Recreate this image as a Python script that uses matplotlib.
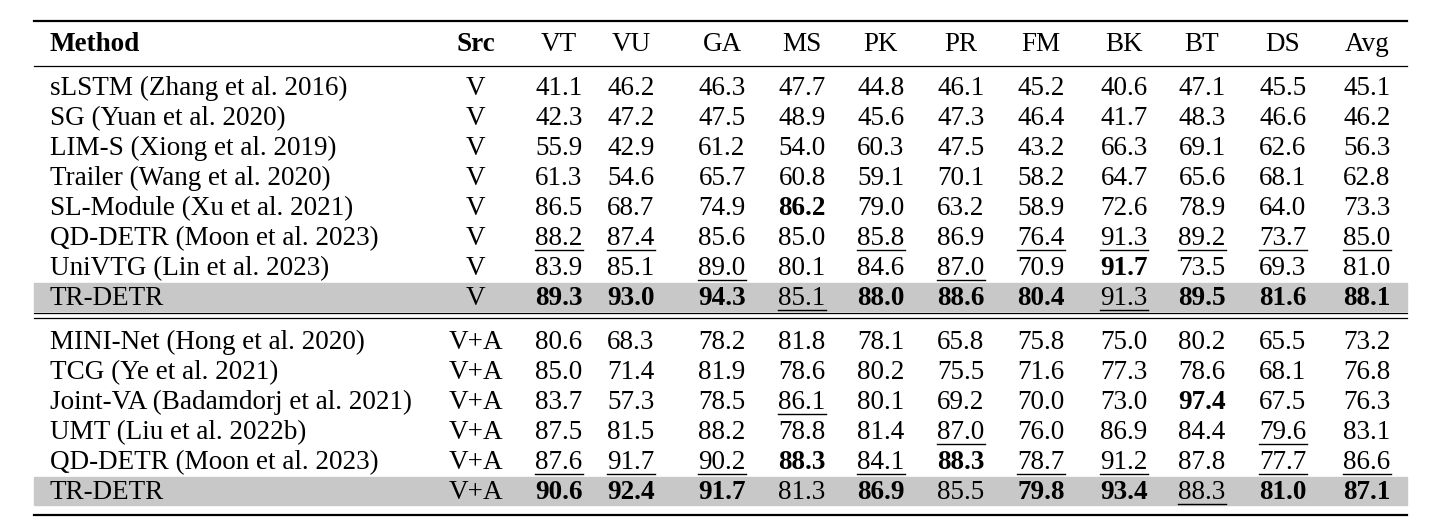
import matplotlib
matplotlib.use("Agg")
import matplotlib.pyplot as plt

headers = ["Method", "Src", "VT", "VU", "GA", "MS", "PK", "PR", "FM", "BK", "BT", "DS", "Avg"]
methods_v = ["sLSTM (Zhang et al. 2016)", "SG (Yuan et al. 2020)", "LIM-S (Xiong et al. 2019)",
             "Trailer (Wang et al. 2020)", "SL-Module (Xu et al. 2021)", "QD-DETR (Moon et al. 2023)",
             "UniVTG (Lin et al. 2023)", "TR-DETR"]
values_v = [
    [41.1, 46.2, 46.3, 47.7, 44.8, 46.1, 45.2, 40.6, 47.1, 45.5, 45.1],
    [42.3, 47.2, 47.5, 48.9, 45.6, 47.3, 46.4, 41.7, 48.3, 46.6, 46.2],
    [55.9, 42.9, 61.2, 54.0, 60.3, 47.5, 43.2, 66.3, 69.1, 62.6, 56.3],
    [61.3, 54.6, 65.7, 60.8, 59.1, 70.1, 58.2, 64.7, 65.6, 68.1, 62.8],
    [86.5, 68.7, 74.9, 86.2, 79.0, 63.2, 58.9, 72.6, 78.9, 64.0, 73.3],
    [88.2, 87.4, 85.6, 85.0, 85.8, 86.9, 76.4, 91.3, 89.2, 73.7, 85.0],
    [83.9, 85.1, 89.0, 80.1, 84.6, 87.0, 70.9, 91.7, 73.5, 69.3, 81.0],
    [89.3, 93.0, 94.3, 85.1, 88.0, 88.6, 80.4, 91.3, 89.5, 81.6, 88.1],
]
marks_v = ["-----------", "-----------", "-----------", "-----------", "---b-------",
           "uu--u-uuuuu", "--u--u-b---", "bbbubbbubbb"]
methods_va = ["MINI-Net (Hong et al. 2020)", "TCG (Ye et al. 2021)", "Joint-VA (Badamdorj et al. 2021)",
              "UMT (Liu et al. 2022b)", "QD-DETR (Moon et al. 2023)", "TR-DETR"]
values_va = [
    [80.6, 68.3, 78.2, 81.8, 78.1, 65.8, 75.8, 75.0, 80.2, 65.5, 73.2],
    [85.0, 71.4, 81.9, 78.6, 80.2, 75.5, 71.6, 77.3, 78.6, 68.1, 76.8],
    [83.7, 57.3, 78.5, 86.1, 80.1, 69.2, 70.0, 73.0, 97.4, 67.5, 76.3],
    [87.5, 81.5, 88.2, 78.8, 81.4, 87.0, 76.0, 86.9, 84.4, 79.6, 83.1],
    [87.6, 91.7, 90.2, 88.3, 84.1, 88.3, 78.7, 91.2, 87.8, 77.7, 86.6],
    [90.6, 92.4, 91.7, 81.3, 86.9, 85.5, 79.8, 93.4, 88.3, 81.0, 87.1],
]
marks_va = ["-----------", "-----------", "---u----b--", "-----u---u-",
            "uuububuu-uu", "bbb-b-bbubb"]

plt.rcParams["font.family"] = ["Liberation Serif", "DejaVu Serif"]
fig = plt.figure(figsize=(14.4, 5.32), dpi=100)
ax = fig.add_axes([0, 0, 1, 1])
ax.set_xlim(0, 1440)
ax.set_ylim(532, 0)
ax.axis("off")

FS = 19.5
xl, xr = 34, 1407
col_x = [50, 476, 559, 631, 722, 802, 881, 961, 1041, 1124, 1202, 1283, 1367]
BASE = 8

ax.plot([xl, xr], [21, 21], color="black", lw=1.6)
ax.plot([xl, xr], [66, 66], color="black", lw=0.9)
ax.plot([xl, xr], [313, 313], color="black", lw=0.9)
ax.plot([xl, xr], [318, 318], color="black", lw=0.9)
ax.plot([xl, xr], [515, 515], color="black", lw=1.6)

for i, h in enumerate(headers):
    ax.text(col_x[i], 43 + BASE, h, fontsize=FS, fontweight="bold" if i < 2 else "normal",
            ha="left" if i == 0 else "center", va="baseline")

def draw_block(methods, values, marks, ys, src):
    for m, vals, mk, y in zip(methods, values, marks, ys):
        if m == "TR-DETR":
            ax.add_patch(plt.Rectangle((xl, y - 14), xr - xl, 28, color="#c8c8c8", zorder=0))
        ax.text(col_x[0], y + BASE, m, fontsize=FS, ha="left", va="baseline")
        ax.text(col_x[1], y + BASE, src, fontsize=FS, ha="center", va="baseline")
        for c, v in enumerate(vals):
            x = col_x[c + 2]
            ax.text(x, y + BASE, f"{v:.1f}", fontsize=FS, ha="center", va="baseline",
                    fontweight="bold" if mk[c] == "b" else "normal")
            if mk[c] == "u":
                ax.plot([x - 24, x + 24], [y + 13, y + 13], color="black", lw=1.0)

draw_block(methods_v, values_v, marks_v, [87 + 30 * i for i in range(8)], "V")
draw_block(methods_va, values_va, marks_va, [341 + 30 * i for i in range(6)], "V+A")

fig.savefig("out.png", dpi=100)
